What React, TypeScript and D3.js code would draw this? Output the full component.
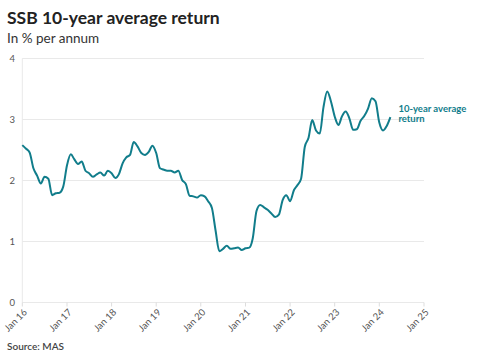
import React from "react";
import * as d3 from "d3";

// monthly values from Jan 2016
const startMonth = new Date(2016, 0, 1);
const returns = [
  2.58, 2.52, 2.46, 2.2, 2.08, 1.95, 2.06, 2.03, 1.76, 1.79, 1.8, 1.9,
  2.25, 2.43, 2.35, 2.27, 2.31, 2.16, 2.12, 2.06, 2.1, 2.13, 2.08, 2.16,
  2.12, 2.04, 2.1, 2.28, 2.38, 2.42, 2.63, 2.56, 2.45, 2.42, 2.47, 2.57,
  2.45, 2.2, 2.18, 2.16, 2.16, 2.13, 2.16, 2.01, 1.94, 1.75, 1.74, 1.72,
  1.76, 1.74, 1.66, 1.55, 1.18, 0.84, 0.88, 0.93, 0.88, 0.89, 0.9, 0.86,
  0.89, 0.9, 1.05, 1.5, 1.6, 1.56, 1.52, 1.46, 1.4, 1.44, 1.68, 1.76,
  1.66, 1.84, 1.92, 2.03, 2.55, 2.7, 2.99, 2.82, 2.77, 3.2, 3.46, 3.3,
  3.05, 2.91, 3.05, 3.13, 3.02, 2.83, 2.84, 2.98, 3.06, 3.18, 3.35, 3.3,
  2.95, 2.82, 2.89, 3.04,
];
const yTicks = [0, 1, 2, 3, 4];
const xTickYears = [2016, 2017, 2018, 2019, 2020, 2021, 2022, 2023, 2024, 2025];

const teal = "#117d8b";
const font = "Lato, 'Noto Sans', sans-serif";

export default function App() {
  const width = 500;
  const height = 361;
  const margin = { top: 58.5, right: 76, bottom: 58.5, left: 22.3 };

  const data = returns.map((v, i) => ({
    date: d3.timeMonth.offset(startMonth, i),
    value: v,
  }));

  const x = d3
    .scaleTime()
    .domain([new Date(2016, 0, 1), new Date(2025, 0, 1)])
    .range([margin.left, width - margin.right]);
  const y = d3
    .scaleLinear()
    .domain([0, 4])
    .range([height - margin.bottom, margin.top]);

  const line = d3
    .line<{ date: Date; value: number }>()
    .x((d) => x(d.date))
    .y((d) => y(d.value))
    .curve(d3.curveMonotoneX);

  const fmt = d3.timeFormat("%b %y");
  const last = data[data.length - 1];

  return (
    <svg
      width={width}
      height={height}
      style={{ position: "absolute", left: 0, top: 0, fontFamily: font }}
    >
      <rect width={width} height={height} fill="#fff" />
      <text x={7} y={24} fontSize={17.5} fontWeight={700} fill="#222">
        SSB 10-year average return
      </text>
      <text x={7} y={43} fontSize={13.5} fill="#333">
        In % per annum
      </text>

      {yTicks.map((t) => (
        <g key={t}>
          <line
            x1={x.range()[0]}
            x2={x.range()[1]}
            y1={y(t)}
            y2={y(t)}
            stroke="#e9e9e9"
            strokeWidth={1}
          />
          <text
            x={15}
            y={y(t)}
            dy="0.35em"
            textAnchor="end"
            fontSize={9.5}
            fill="#555"
          >
            {t}
          </text>
        </g>
      ))}
      <line
        x1={x.range()[0]}
        x2={x.range()[0]}
        y1={y(4)}
        y2={y(0)}
        stroke="#e9e9e9"
      />

      {xTickYears.map((yr) => {
        const d = new Date(yr, 0, 1);
        const px = x(d);
        return (
          <g key={yr}>
            <line x1={px} x2={px} y1={y(0)} y2={y(0) + 4} stroke="#ddd" />
            <text
              transform={`translate(${px + 3},${y(0) + 8}) rotate(-45)`}
              textAnchor="end"
              dy="0.35em"
              fontSize={9.5}
              fill="#555"
            >
              {fmt(d)}
            </text>
          </g>
        );
      })}

      <path d={line(data) || ""} fill="none" stroke={teal} strokeWidth={2} />

      <text
        x={x(last.date) + 8}
        y={y(last.value) - 5}
        fontSize={9.5}
        fontWeight={700}
        fill={teal}
      >
        <tspan x={x(last.date) + 8}>10-year average</tspan>
        <tspan x={x(last.date) + 8} dy={10}>
          return
        </tspan>
      </text>

      <text x={7} y={350} fontSize={10} fontWeight={600} fill="#444">
        Source: MAS
      </text>
    </svg>
  );
}
